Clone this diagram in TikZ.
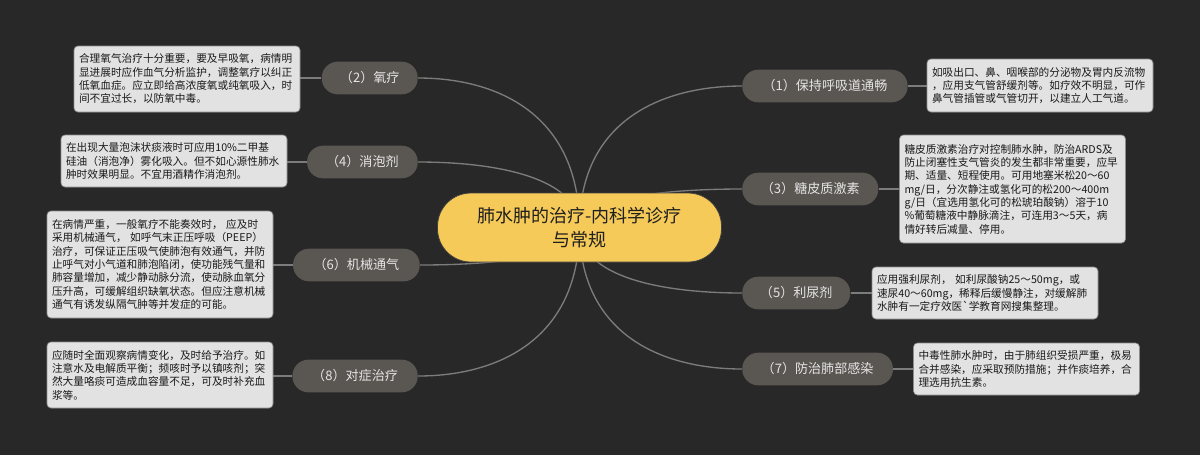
\documentclass[tikz,border=0pt]{standalone}
\usepackage{fontspec}
\setmainfont{Noto Sans CJK SC}
\usetikzlibrary{backgrounds,calc}
\definecolor{bgc}{HTML}{282828}
\definecolor{branchfill}{HTML}{5A5652}
\definecolor{notefill}{HTML}{E2E2E2}
\definecolor{linec}{HTML}{7C7C7C}
\definecolor{rootfill}{HTML}{F5CA58}
\newcommand\mynotefont{\fontsize{8}{10}\selectfont\lineskiplimit=-5pt\relax}
\begin{document}
\begin{tikzpicture}[x=0.75pt,y=-0.75pt,
  root/.style={fill=rootfill, draw=black!75, line width=0.6pt, rounded corners=25pt,
    minimum width=213pt, minimum height=51.75pt, align=center,
    font=\fontsize{13.5}{18.5}\selectfont, text=black!88, inner sep=0pt},
  branch/.style={fill=branchfill, rounded corners=12pt, minimum height=24.5pt,
    text=white!90!black, font=\fontsize{9.8}{12}\selectfont, inner sep=0pt},
  note/.style={fill=notefill, draw=black!45, line width=0.5pt, rounded corners=3pt,
    text width=162pt, inner xsep=3.75pt, inner ysep=4pt, align=left, text=black!90,
    font=\mynotefont},
  link/.style={draw=linec, line width=1pt}]
\begin{scope}[on background layer]
  \fill[bgc] (0,0) rectangle (1200,455);
\end{scope}
\useasboundingbox (0,0) rectangle (1200,455);

% root
\node[root] (root) at (579.5,227.5) {肺水肿的治疗-内科学诊疗\\与常规};

% left branches
\node[branch, anchor=east, minimum width=72pt] (b2) at (418,78) {（2）氧疗};
\node[branch, anchor=east, minimum width=83pt] (b4) at (418,162) {（4）消泡剂};
\node[branch, anchor=east, minimum width=95pt] (b6) at (420,265) {（6）机械通气};
\node[branch, anchor=east, minimum width=94pt] (b8) at (418,376) {（8）对症治疗};
% right branches
\node[branch, anchor=west, minimum width=124pt] (b1) at (742,86) {（1）保持呼吸道通畅};
\node[branch, anchor=west, minimum width=102pt] (b3) at (742,189) {（3）糖皮质激素};
\node[branch, anchor=west, minimum width=81pt] (b5) at (742,293) {（5）利尿剂};
\node[branch, anchor=west, minimum width=113pt] (b7) at (742,369) {（7）防治肺部感染};

% notes
\node[note, minimum height=49.5pt] (n2) at (187,79) {合理氧气治疗十分重要，要及早吸氧，病情明\\显进展时应作血气分析监护，调整氧疗以纠正\\低氧血症。应立即给高浓度氧或纯氧吸入，时\\间不宜过长，以防氧中毒。};
\node[note, minimum height=39pt] (n4) at (174,161) {在出现大量泡沫状痰液时可应用10\%二甲基\\硅油（消泡净）雾化吸入。但不如心源性肺水\\肿时效果明显。不宜用酒精作消泡剂。};
\node[note, minimum height=80.25pt] (n6) at (160,264.5) {在病情严重，一般氧疗不能奏效时，~应及时\\采用机械通气，~如呼气末正压呼吸（PEEP）\\治疗，可保证正压吸气使肺泡有效通气，并防\\止呼气对小气道和肺泡陷闭，使功能残气量和\\肺容量增加，减少静动脉分流，使动脉血氧分\\压升高，可缓解组织缺氧状态。但应注意机械\\通气有诱发纵隔气肿等并发症的可能。};
\node[note, minimum height=49.5pt] (n8) at (160,375) {应随时全面观察病情变化，及时给予治疗。如\\注意水及电解质平衡；频咳时予以镇咳剂；突\\然大量咯痰可造成血容量不足，可及时补充血\\浆等。};
\node[note, minimum height=39.75pt] (n1) at (1040,85.5) {如吸出口、鼻、咽喉部的分泌物及胃内反流物\\，应用支气管舒缓剂等。如疗效不明显，可作\\鼻气管插管或气管切开，以建立人工气道。};
\node[note, minimum height=81pt] (n3) at (1012.5,189) {糖皮质激素治疗对控制肺水肿，防治ARDS及\\防止闭塞性支气管炎的发生都非常重要，应早\\期、适量、短程使用。可用地塞米松20～60\\mg/日，分次静注或氢化可的松200～400m\\g/日（宜选用氢化可的松琥珀酸钠）溶于10\\\%葡萄糖液中静脉滴注，可连用3～5天，病\\情好转后减量、停用。};
\node[note, minimum height=39pt] (n5) at (985,293) {应用强利尿剂，~如利尿酸钠25～50mg，或\\速尿40～60mg，稀释后缓慢静注，对缓解肺\\水肿有一定疗效医\textasciigrave 学教育网搜集整理。};
\node[note, minimum height=39pt] (n7) at (1026.5,369) {中毒性肺水肿时，由于肺组织受损严重，极易\\合并感染，应采取预防措施；并作痰培养，合\\理选用抗生素。};

% connectors
\begin{scope}[on background layer]
  \foreach \b in {b2,b4,b6,b8}{
    \draw[link] (root.center) .. controls ($(root.center)!0.75!(root.center |- \b.east)$)
      and ($(root.center |- \b.east)!0.5!(\b.east)$) .. (\b.east);
  }
  \foreach \b in {b1,b3,b5,b7}{
    \draw[link] (root.center) .. controls ($(root.center)!0.75!(root.center |- \b.west)$)
      and ($(root.center |- \b.west)!0.5!(\b.west)$) .. (\b.west);
  }
  \foreach \b/\n in {b2/n2,b4/n4,b6/n6,b8/n8}{
    \draw[link] (\b.west) -- (\b.west -| \n.east);
  }
  \foreach \b/\n in {b1/n1,b3/n3,b5/n5,b7/n7}{
    \draw[link] (\b.east) -- (\b.east -| \n.west);
  }
\end{scope}
\end{tikzpicture}
\end{document}
